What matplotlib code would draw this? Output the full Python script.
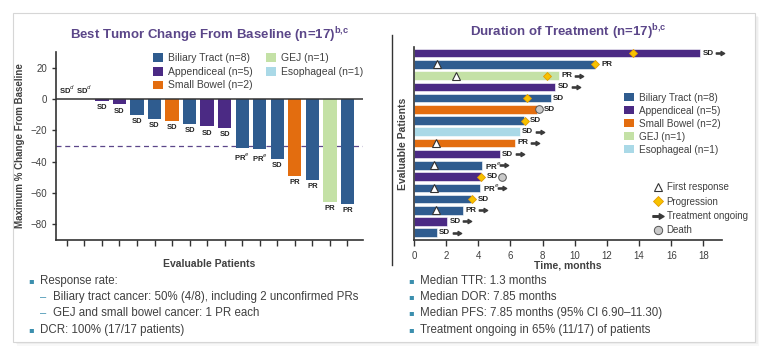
import matplotlib
matplotlib.use("Agg")
import matplotlib.pyplot as plt
import matplotlib as mpl
from matplotlib.patches import Patch, Rectangle
from matplotlib.lines import Line2D
from matplotlib.path import Path

mpl.rcParams.update({
    "font.family": ["Liberation Sans", "DejaVu Sans"],
    "mathtext.fontset": "custom",
    "mathtext.rm": "Liberation Sans",
    "mathtext.bf": "Liberation Sans:bold",
    "axes.edgecolor": "#333333",
    "xtick.color": "#333333",
    "ytick.color": "#333333",
})

# ---- data ----
TYPES = ["Biliary Tract (n=8)", "Appendiceal (n=5)", "Small Bowel (n=2)", "GEJ (n=1)", "Esophageal (n=1)"]
COLORS = {"Biliary": "#2f5c8f", "Appendiceal": "#4b2a84", "Small Bowel": "#e36d0f",
          "GEJ": "#c4e1a6", "Esophageal": "#aad9e7"}

# waterfall (best tumor change)
wf_type = ["Appendiceal", "Appendiceal", "Appendiceal", "Appendiceal", "Biliary", "Biliary",
           "Small Bowel", "Biliary", "Appendiceal", "Appendiceal", "Biliary", "Biliary",
           "Biliary", "Small Bowel", "Biliary", "GEJ", "Biliary"]
wf_change = [0, 0, -1.5, -3.5, -10, -12.7, -14.2, -16, -17.5, -18.4, -31.3, -32, -38.1,
             -49.1, -51.9, -65.8, -67.1]
wf_label = ["SD$^{d}$", "SD$^{d}$", "SD", "SD", "SD", "SD", "SD", "SD", "SD", "SD",
            "PR$^{e}$", "PR$^{e}$", "SD", "PR", "PR", "PR", "PR"]

# swimmer (duration of treatment)
sw_type = ["Appendiceal", "Biliary", "GEJ", "Appendiceal", "Biliary", "Small Bowel", "Biliary",
           "Esophageal", "Small Bowel", "Appendiceal", "Biliary", "Appendiceal", "Biliary",
           "Biliary", "Biliary", "Appendiceal", "Biliary"]
sw_months = [17.8, 11.25, 9.0, 8.8, 8.5, 7.65, 6.83, 6.58, 6.27, 5.32, 4.24, 4.14, 4.12,
             3.56, 3.06, 2.07, 1.41]
sw_label = ["SD", "PR", "PR", "SD", "SD", "SD", "SD", "SD", "PR", "SD", "PR$^{e}$", "SD",
            "PR$^{e}$", "SD", "PR", "SD", "SD"]
sw_first_resp = [None, 1.45, 2.6, None, None, None, None, None, 1.35, None, 1.24, None, 1.24,
                 None, 1.35, None, None]
sw_progression = [13.65, 11.25, 8.27, None, 7.04, None, 6.9, None, None, None, None, 4.14,
                  None, 3.6, None, None, None]
sw_death = [None, None, None, None, None, 7.8, None, None, None, None, None, 5.48, None,
            None, None, None, None]
sw_ongoing = [True, False, True, True, False, False, False, True, True, True, True, False,
              True, False, True, True, True]

TITLE_C = "#5b4689"
TEXT_C = "#404040"
BULLET_C = "#3b8fae"
DIAMOND_FC, DIAMOND_EC = "#f7c200", "#e39b00"
ARROW_C = "#3a3a3a"

arrow_marker = Path([(-1, -0.14), (0.15, -0.14), (0.15, -0.5), (1, 0), (0.15, 0.5),
                     (0.15, 0.14), (-1, 0.14), (-1, -0.14)], closed=True)

fig = plt.figure(figsize=(7.68, 3.55), dpi=100)
fig.patch.set_facecolor("white")

# card frame with soft shadow
for i, a in enumerate([0.05, 0.07, 0.09]):
    d = (3 - i) * 0.0018
    fig.patches.append(Rectangle((0.017 + d, 0.037 - d * 2), 0.966, 0.926, transform=fig.transFigure,
                                 facecolor="#808080", edgecolor="none", alpha=a, zorder=-3))
fig.patches.append(Rectangle((0.017, 0.037), 0.966, 0.926, transform=fig.transFigure,
                             facecolor="white", edgecolor="#d6d6d6", lw=0.8, zorder=-2))

# ---- left: waterfall ----
ax1 = fig.add_axes([0.0729, 0.324, 0.40, 0.5296])
ax1.patch.set_alpha(0)
x = list(range(len(wf_change)))
ax1.bar(x, wf_change, width=0.76, color=[COLORS[t] for t in wf_type], zorder=2)
ax1.axhline(0, color="#333333", lw=1.1, zorder=3)
ax1.axhline(-30, color="#5b4689", lw=0.9, ls=(0, (4, 3)), zorder=1)
for xi, v, lab in zip(x, wf_change, wf_label):
    if v == 0:
        ax1.text(xi, 2.2, lab, ha="center", va="bottom", fontsize=5.5, fontweight="bold", color="#222222")
    else:
        ax1.text(xi, v - 2.0, lab, ha="center", va="top", fontsize=5.5, fontweight="bold", color="#222222")
ax1.set_xlim(-0.62, 16.9)
ax1.set_ylim(-90, 30)
ax1.set_yticks([20, 0, -20, -40, -60, -80])
ax1.set_xticks(x)
ax1.set_xticklabels([])
ax1.tick_params(axis="x", direction="out", length=4, width=1)
ax1.tick_params(axis="y", direction="out", length=3, width=1, labelsize=7, labelcolor=TEXT_C)
for s in ["top", "right"]:
    ax1.spines[s].set_visible(False)
for s in ["left", "bottom"]:
    ax1.spines[s].set_linewidth(1.2)
ax1.set_ylabel("Maximum % Change From Baseline", fontsize=7, fontweight="bold", color=TEXT_C, labelpad=4)
ax1.set_xlabel("Evaluable Patients", fontsize=7.5, fontweight="bold", color=TEXT_C, labelpad=6)
ax1.set_title("Best Tumor Change From Baseline (n=17)$^{\\mathbf{b{,}c}}$", fontsize=9.5,
              fontweight="bold", color=TITLE_C, pad=9)

type_keys = list(COLORS.keys())
handles = [Patch(facecolor=COLORS[k], edgecolor="none", label=l) for k, l in zip(type_keys, TYPES)]
fig.legend(handles=handles, loc="upper left", bbox_to_anchor=(0.192, 0.865), ncol=2,
           frameon=False, fontsize=7.5, handlelength=1.0, handleheight=0.9, handletextpad=0.5,
           columnspacing=1.2, labelspacing=0.35, labelcolor=TEXT_C, borderpad=0)

# ---- right: swimmer ----
ax2 = fig.add_axes([0.539, 0.323, 0.401, 0.5438])
ax2.patch.set_alpha(0)
y = list(range(len(sw_months)))
ax2.barh(y, sw_months, height=0.76, color=[COLORS[t] for t in sw_type], edgecolor="white",
         linewidth=0.4, zorder=2)
for yi in y:
    end = sw_months[yi]
    fr, pg, dt = sw_first_resp[yi], sw_progression[yi], sw_death[yi]
    if fr is not None:
        ax2.plot(fr, yi, marker="^", ms=5.5, mfc="white", mec="#333333", mew=0.8, zorder=4)
    if pg is not None:
        ax2.plot(pg, yi, marker="D", ms=4.5, mfc=DIAMOND_FC, mec=DIAMOND_EC, mew=0.6, zorder=4)
    at_end = (pg is not None and abs(pg - end) < 0.15) or (dt is not None and abs(dt - end) < 0.3)
    tx = end + (0.4 if at_end else 0.15)
    ax2.text(tx, yi, sw_label[yi], ha="left", va="center", fontsize=5.8, fontweight="bold",
             color="#222222", zorder=4)
    if dt is not None:
        ax2.plot(dt, yi, marker="o", ms=5.5, mfc="#c9c9c9", mec="#555555", mew=0.7, zorder=4,
                 clip_on=False)
    if sw_ongoing[yi]:
        ax2.plot(tx + (1.2 if "e" in sw_label[yi] else 1.1), yi, marker=arrow_marker, ms=6,
                 color=ARROW_C, mec=ARROW_C, lw=0, zorder=4, clip_on=False)
ax2.set_ylim(16.68, -0.53)
ax2.set_xlim(0, 19.15)
ax2.set_xticks(range(0, 20, 2))
ax2.set_yticks([])
ax2.tick_params(axis="x", direction="out", length=4, width=1, labelsize=7, labelcolor=TEXT_C)
for s in ["top", "right"]:
    ax2.spines[s].set_visible(False)
for s in ["left", "bottom"]:
    ax2.spines[s].set_linewidth(1.2)
ax2.set_ylabel("Evaluable Patients", fontsize=7.5, fontweight="bold", color=TEXT_C, labelpad=4)
ax2.set_xlabel("Time, months", fontsize=7.5, fontweight="bold", color=TEXT_C, labelpad=0)
ax2.set_title("Duration of Treatment (n=17)$^{\\mathbf{b{,}c}}$", fontsize=9.5,
              fontweight="bold", color=TITLE_C, pad=8)

fig.legend(handles=handles, loc="upper left", bbox_to_anchor=(0.806, 0.753), frameon=False,
           fontsize=7.2, handlelength=1.0, handleheight=0.9, handletextpad=0.5,
           labelspacing=0.3, labelcolor=TEXT_C, borderpad=0)

event_handles = [
    Line2D([], [], ls="none", marker="^", ms=6, mfc="white", mec="#333333", mew=0.8, label="First response"),
    Line2D([], [], ls="none", marker="D", ms=5.5, mfc=DIAMOND_FC, mec=DIAMOND_EC, mew=0.6, label="Progression"),
    Line2D([], [], ls="none", marker=arrow_marker, ms=8, color=ARROW_C, label="Treatment ongoing"),
    Line2D([], [], ls="none", marker="o", ms=6, mfc="#c9c9c9", mec="#555555", mew=0.7, label="Death"),
]
fig.legend(handles=event_handles, loc="upper left", bbox_to_anchor=(0.844, 0.5), frameon=False,
           fontsize=7.0, handlelength=1.0, handletextpad=0.4, labelspacing=0.45,
           labelcolor=TEXT_C, borderpad=0)

# divider between panels
fig.add_artist(Line2D([0.5104, 0.5104], [0.254, 0.901], transform=fig.transFigure,
                      color="#333333", lw=1.0))

# ---- bullet notes ----
left_notes = [(0, "Response rate:"),
              (1, "Biliary tract cancer: 50% (4/8), including 2 unconfirmed PRs"),
              (1, "GEJ and small bowel cancer: 1 PR each"),
              (0, "DCR: 100% (17/17 patients)")]
right_notes = ["Median TTR: 1.3 months",
               "Median DOR: 7.85 months",
               "Median PFS: 7.85 months (95% CI 6.90\u201311.30)",
               "Treatment ongoing in 65% (11/17) of patients"]
rows_px = [281, 297, 313, 329.5]
for (lvl, txt), ypx in zip(left_notes, rows_px):
    yf = 1 - ypx / 355
    if lvl == 0:
        fig.text(31 / 768, yf, "\u25aa", fontsize=6, color=BULLET_C, ha="center", va="center",
                 family="DejaVu Sans")
        fig.text(40 / 768, yf, txt, fontsize=8.3, color=TEXT_C, va="center")
    else:
        fig.text(43 / 768, yf, "\u2013", fontsize=8, color=BULLET_C, ha="center", va="center")
        fig.text(53 / 768, yf, txt, fontsize=8.3, color=TEXT_C, va="center")
for txt, ypx in zip(right_notes, rows_px):
    yf = 1 - ypx / 355
    fig.text(411 / 768, yf, "\u25aa", fontsize=6, color=BULLET_C, ha="center", va="center",
             family="DejaVu Sans")
    fig.text(420 / 768, yf, txt, fontsize=8.3, color=TEXT_C, va="center")

fig.savefig("out.png", dpi=100, facecolor="white")
